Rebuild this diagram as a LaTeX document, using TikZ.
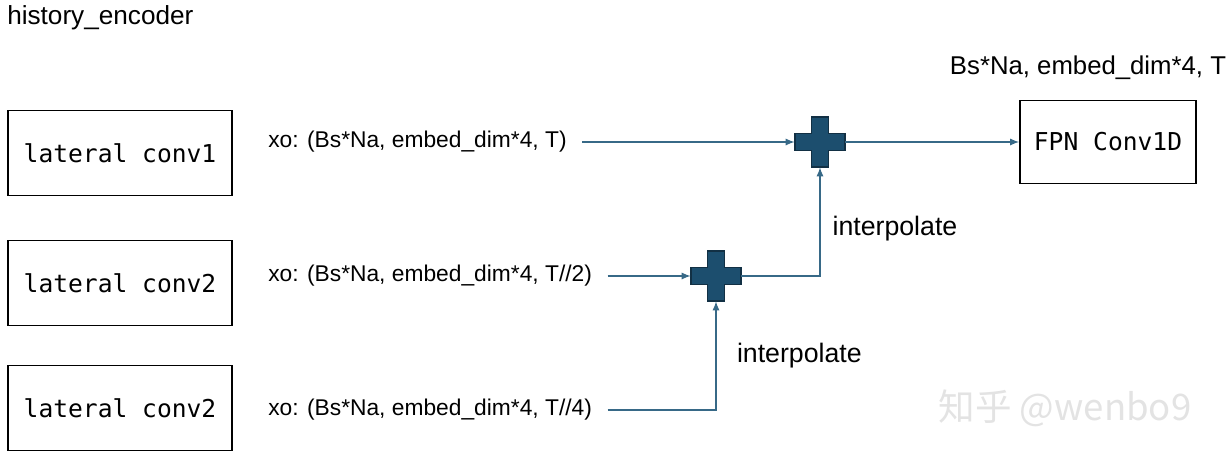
\documentclass[tikz,border=0pt]{standalone}
\usepackage{fontspec}
\setmainfont{Liberation Sans}
\setmonofont{DejaVu Sans Mono}
\newfontfamily\cjk{Noto Sans CJK SC}
\definecolor{plusblau}{RGB}{28,78,110}
\definecolor{plusrand}{RGB}{18,48,68}
\definecolor{pfeilblau}{RGB}{55,105,135}

\begin{document}
\begin{tikzpicture}[x=0.025cm, y=-0.025cm, >=latex,
    box/.style={draw, line width=1.1pt, minimum width=5.6cm, minimum height=2.125cm,
        font=\ttfamily\fontsize{17.5}{20}\selectfont},
    dimlabel/.style={anchor=west, inner sep=0pt, font=\fontsize{16.2}{19}\selectfont},
    plusknoten/.style={inner sep=0pt, minimum size=1.25cm},
    pfeil/.style={->, pfeilblau, line width=1.2pt},
    interp/.style={black, font=\fontsize{19}{22}\selectfont}]

              \useasboundingbox (0,0) rectangle (1230,456);

              % Titel
              \node[anchor=west, inner sep=0pt, font=\fontsize{18.6}{21}\selectfont] (titel) at (7,18) {history\_encoder};

              % Wasserzeichen
              \node[gray!22, font=\cjk\fontsize{26}{30}\selectfont] (wz) at (1065,408) {知乎 @wenbo9};

              % linke Kaesten
              \node[box] (lc1) at (120,153) {lateral conv1};
              \node[box] (lc2) at (120,283) {lateral conv2};
              \node[box] (lc3) at (120,408) {lateral conv2};

              % Formen
              \node[dimlabel] (xo1) at (268,142) {xo: (Bs*Na, embed\_dim*4, T)};
              \node[dimlabel] (xo2) at (268,276) {xo: (Bs*Na, embed\_dim*4, T//2)};
              \node[dimlabel] (xo3) at (268,410) {xo: (Bs*Na, embed\_dim*4, T//4)};

              % Pluszeichen
              \foreach \n/\x/\y in {pa/820/142, pb/716/276} {
                      \filldraw[fill=plusblau, draw=plusrand, line width=0.8pt]
                      (\x,\y) ++(-8.5,-25) -- ++(17,0) -- ++(0,16.5) -- ++(16.5,0) -- ++(0,17)
                      -- ++(-16.5,0) -- ++(0,16.5) -- ++(-17,0) -- ++(0,-16.5) -- ++(-16.5,0)
                      -- ++(0,-17) -- ++(16.5,0) -- cycle;
                      \node[plusknoten] (\n) at (\x,\y) {};
                  }

              % FPN
              \node[box, minimum width=4.4cm, minimum height=2.075cm] (fpn) at (1108,142) {FPN Conv1D};
              \node[font=\fontsize{18.3}{21}\selectfont] (aus) at (1088,68) {Bs*Na, embed\_dim*4, T};

              % Verbindungen
              \draw[pfeil, shorten <=11pt] (xo1.east) -- (pa.west);
              \draw[pfeil, shorten <=11pt] (xo2.east) -- (pb.west);
              \draw[pfeil, shorten <=11pt] (xo3.east) -| (pb.south) node[interp, right=11pt, pos=0.75] {interpolate};
              \draw[pfeil] (pb.east) -| (pa.south) node[interp, right=5pt, pos=0.72] {interpolate};
              \draw[pfeil] (pa.east) -- (fpn.west);

          \end{tikzpicture}
\end{document}
